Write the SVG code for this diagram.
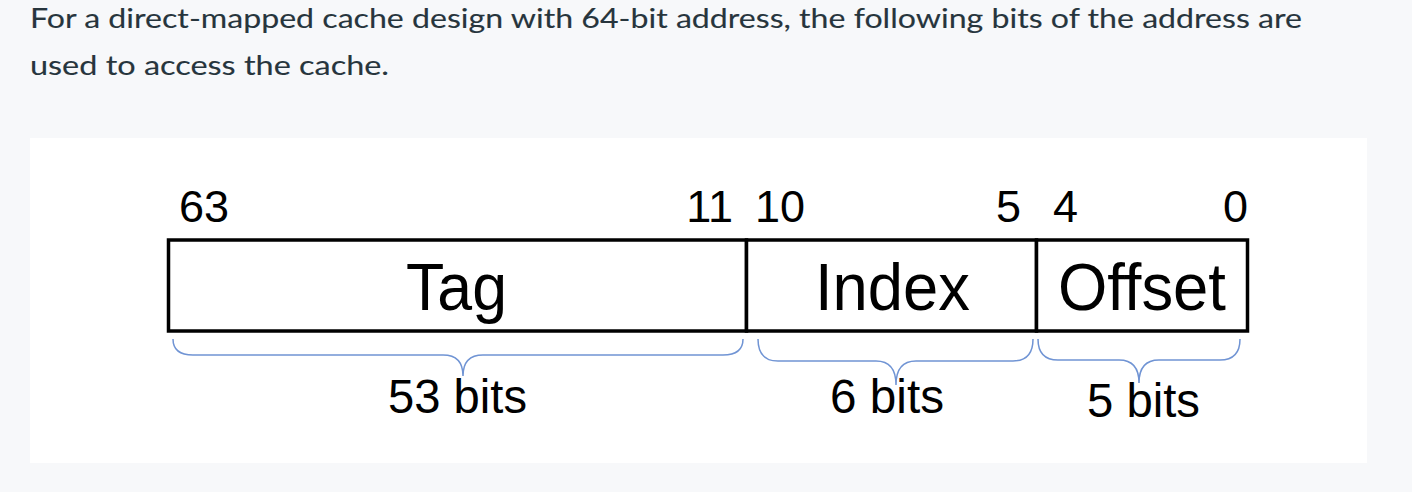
<svg xmlns="http://www.w3.org/2000/svg" width="1412" height="492" viewBox="0 0 1412 492">
<style>
.hdr{font-family:Lato,"Open Sans","Liberation Sans",sans-serif;font-size:27px;fill:#27353d;stroke:#27353d;stroke-width:0.12}
.num{font-family:"Liberation Sans",Arial,sans-serif;font-size:45px;fill:#000}
.lbl{font-family:"Liberation Sans",Arial,sans-serif;font-size:66px;fill:#000}
.bits{font-family:"Liberation Sans",Arial,sans-serif;font-size:48px;fill:#000}
.field{fill:#fff;stroke:#000;stroke-width:3.5}
.brace{fill:none;stroke:#7094d4;stroke-width:1.5}
</style>
<rect x="0" y="0" width="1412" height="492" fill="#f7f8fa"/>
<text class="hdr" x="30" y="27.5" textLength="1272" lengthAdjust="spacingAndGlyphs">For a direct-mapped cache design with 64-bit address, the following bits of the address are</text>
<text class="hdr" x="30" y="75" textLength="359" lengthAdjust="spacingAndGlyphs">used to access the cache.</text>
<rect x="30" y="138" width="1337" height="325" fill="#ffffff"/>
<g id="bit-numbers">
<text class="num" x="179" y="222">63</text>
<text class="num" x="733" y="222" text-anchor="end">11</text>
<text class="num" x="755" y="222">10</text>
<text class="num" x="1021" y="222" text-anchor="end">5</text>
<text class="num" x="1053" y="222">4</text>
<text class="num" x="1248" y="222" text-anchor="end">0</text>
</g>
<g id="tag">
<rect class="field" x="168.5" y="240" width="578" height="91"/>
<text class="lbl" x="406" y="310" textLength="101" lengthAdjust="spacingAndGlyphs">Tag</text>
</g>
<g id="index">
<rect class="field" x="746.5" y="240" width="290" height="91"/>
<text class="lbl" x="815" y="310" textLength="155" lengthAdjust="spacingAndGlyphs">Index</text>
</g>
<g id="offset">
<rect class="field" x="1036.5" y="240" width="211" height="91"/>
<text class="lbl" x="1058" y="310" textLength="168" lengthAdjust="spacingAndGlyphs">Offset</text>
</g>
<g id="connectors">
<path class="brace" d="M173,339 Q173,355 193,355 L443,355 Q463,355 463,376 Q463,355 483,355 L723,355 Q743,355 743,339"/>
<path class="brace" d="M758,339 Q758,361 778,361 L876,361 Q896,361 896,385 Q896,361 916,361 L1013,361 Q1033,361 1033,339"/>
<path class="brace" d="M1038,339 Q1038,360 1058,360 L1119,360 Q1139,360 1139,383 Q1139,360 1159,360 L1220,360 Q1240,360 1240,339"/>
</g>
<g id="sizes">
<text class="bits" x="388" y="413" textLength="139" lengthAdjust="spacingAndGlyphs">53 bits</text>
<text class="bits" x="830" y="413" textLength="114" lengthAdjust="spacingAndGlyphs">6 bits</text>
<text class="bits" x="1087" y="417" textLength="113" lengthAdjust="spacingAndGlyphs">5 bits</text>
</g>
</svg>
